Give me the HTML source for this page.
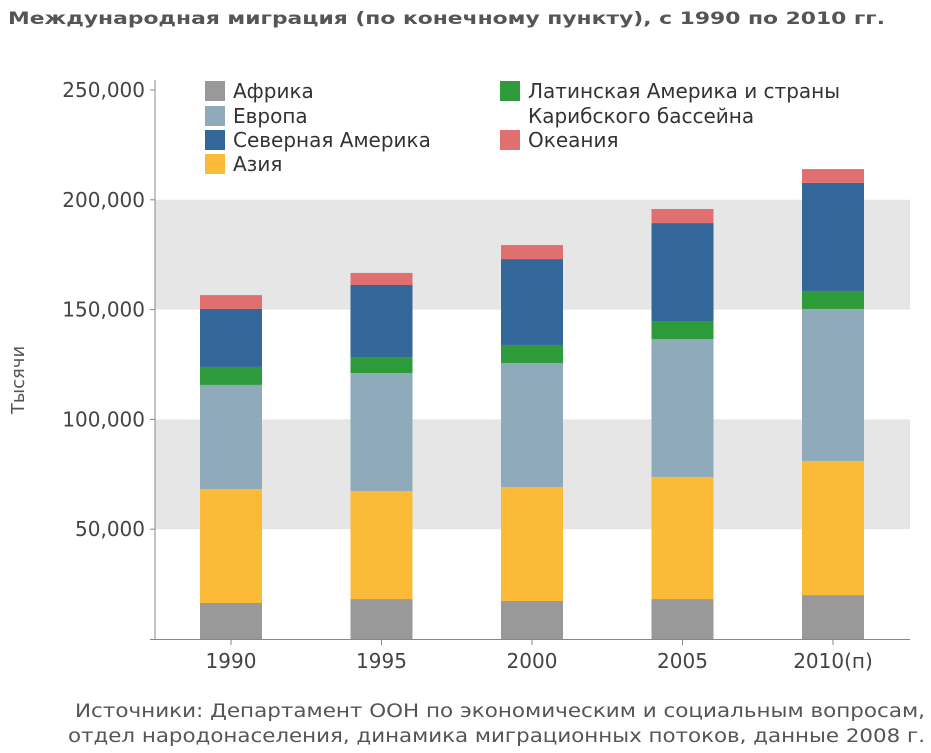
<!DOCTYPE html>
<html><head><meta charset="utf-8"><style>
body{margin:0;background:#fff;width:931px;height:749px;overflow:hidden;font-family:"DejaVu Sans","Liberation Sans",sans-serif}
</style></head><body>
<svg id="c" width="931" height="749" font-family="DejaVu Sans, Liberation Sans, sans-serif">
<text x="8" y="24" font-size="17" font-weight="bold" fill="#555" textLength="877" lengthAdjust="spacingAndGlyphs">Международная миграция (по конечному пункту), с 1990 по 2010 гг.</text>
<g id="bands"></g><g id="bars"></g><g id="axes"></g>
<text transform="translate(24,380) rotate(-90)" text-anchor="middle" font-size="18" fill="#555">Тысячи</text>
<g id="legend"></g>
<text x="75" y="717" font-size="19" fill="#555" textLength="850" lengthAdjust="spacingAndGlyphs">Источники: Департамент ООН по экономическим и социальным вопросам,</text>
<text x="68" y="742" font-size="19" fill="#555" textLength="857" lengthAdjust="spacingAndGlyphs">отдел народонаселения, динамика миграционных потоков, данные 2008 г.</text>
</svg>
<script>
const categories=["1990","1995","2000","2005","2010(п)"];
const seriesNames=["Африка","Азия","Европа","Латинская Америка и страны Карибского бассейна","Северная Америка","Океания"];
const africa=[16.4,18.2,17.3,18.2,20.0];
const asia=[51.9,49.2,51.9,55.6,61.1];
const europe=[47.4,53.7,56.5,62.8,69.2];
const latam=[8.2,7.3,8.2,8.2,8.2];
const northAmerica=[26.4,32.8,39.1,44.6,49.2];
const oceania=[6.3,5.5,6.4,6.4,6.3];
const yTicks=[50000,100000,150000,200000,250000];
const ns="http://www.w3.org/2000/svg";
const colors=["#999999","#fbbb38","#8eaabb","#2e9b3b","#336699","#e07070"];
const series=[africa,asia,europe,latam,northAmerica,oceania];
const y=v=>639-v*2.196/1000;
const x=i=>200+i*150.5;
const bw=62;
function mk(t,a,p){const e=document.createElementNS(ns,t);for(const k in a)e.setAttribute(k,a[k]);p.appendChild(e);return e;}
const bands=document.getElementById('bands');
[[50000,100000],[150000,200000]].forEach(function(b,i){
 const r=mk('rect',{x:155,y:y(b[1]),width:755,height:y(b[0])-y(b[1]),fill:'#e6e6e6'},bands);
 
 
});
const bars=document.getElementById('bars');
categories.forEach(function(c,i){
 let cum=0;
 series.forEach(function(s,j){
  const v=s[i]*1000;
  const r=mk('rect',{x:x(i),y:y(cum+v),width:bw,height:y(cum)-y(cum+v),fill:colors[j]},bars);
  
  
  cum+=v;
 });
});
const ax=document.getElementById('axes');
mk('line',{x1:155,y1:80,x2:155,y2:640,stroke:'#888'},ax);
mk('line',{x1:150,y1:639.5,x2:910,y2:639.5,stroke:'#888'},ax);
yTicks.forEach(function(t){
 mk('line',{x1:150,y1:y(t),x2:155,y2:y(t),stroke:'#888'},ax);
 const tx=mk('text',{x:145,y:y(t)+7,'text-anchor':'end','font-size':20,fill:'#444'},ax);
 tx.textContent=t.toLocaleString('en-US');
 
 
});
categories.forEach(function(c,i){
 mk('line',{x1:x(i)+bw/2,y1:640,x2:x(i)+bw/2,y2:645,stroke:'#888'},ax);
 const tx=mk('text',{x:x(i)+bw/2,y:668,'text-anchor':'middle','font-size':20,fill:'#444'},ax);
 tx.textContent=c;
 
 
});
const lg=document.getElementById('legend');
const items=[[0,205,81,["Африка"]],[2,205,106,["Европа"]],[4,205,130,["Северная Америка"]],[1,205,154,["Азия"]],[3,500,81,["Латинская Америка и страны","Карибского бассейна"]],[5,500,130,["Океания"]]];
items.forEach(function(it){
 const g=mk('g',{},lg);
 
 
 mk('rect',{x:it[1],y:it[2],width:20,height:20,fill:colors[it[0]]},g);
 it[3].forEach(function(l,k){
  const t=mk('text',{x:it[1]+28,y:it[2]+17+k*25,'font-size':20,fill:'#333'},g);
  t.textContent=l;
 });
});
</script>
</body></html>
